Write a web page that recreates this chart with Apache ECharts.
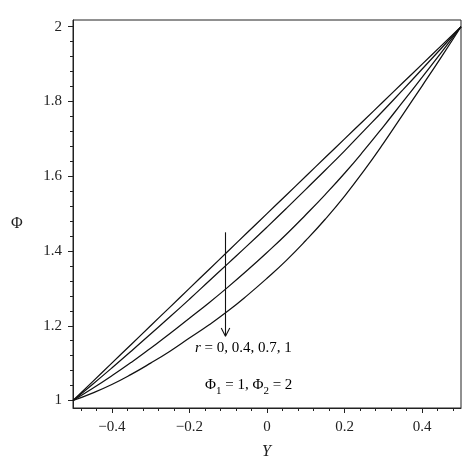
<!DOCTYPE html>
<html>
<head>
<meta charset="utf-8">
<script src="https://cdn.jsdelivr.net/npm/echarts@6/dist/echarts.min.js"></script>
<style>html,body{margin:0;padding:0;background:#fff;}#c{width:474px;height:474px;}</style>
</head>
<body>
<div id="c"></div>
<script>
// Y positions (abscissa)
const yPos = [-0.5,-0.45,-0.4,-0.35,-0.3,-0.25,-0.2,-0.15,-0.1,-0.05,0,0.05,0.1,0.15,0.2,0.25,0.3,0.35,0.4,0.45,0.5];
// Phi for r = 0, 0.4, 0.7, 1
const phi_r0  = [1.000,1.050,1.100,1.150,1.200,1.250,1.300,1.350,1.400,1.450,1.500,1.550,1.600,1.650,1.700,1.750,1.800,1.850,1.900,1.950,2.000];
const phi_r04 = [1.000,1.043,1.087,1.132,1.178,1.224,1.271,1.319,1.367,1.415,1.464,1.514,1.565,1.616,1.668,1.722,1.776,1.831,1.887,1.943,2.000];
const phi_r07 = [1.000,1.032,1.066,1.102,1.140,1.179,1.220,1.261,1.304,1.349,1.396,1.445,1.497,1.551,1.608,1.669,1.733,1.799,1.865,1.932,2.000];
const phi_r1  = [1.000,1.020,1.043,1.070,1.100,1.132,1.167,1.202,1.240,1.282,1.327,1.375,1.428,1.485,1.547,1.615,1.688,1.765,1.842,1.920,2.000];
const rValues = ['0','0.4','0.7','1'];
const xTicks = [-0.4,-0.2,0,0.2,0.4];
const xMinorTicks = [-0.48,-0.44,-0.4,-0.36,-0.32,-0.28,-0.24,-0.2,-0.16,-0.12,-0.08,-0.04,0,0.04,0.08,0.12,0.16,0.2,0.24,0.28,0.32,0.36,0.4,0.44,0.48];
const yTicks = [1,1.2,1.4,1.6,1.8,2];
const yMinorTicks = [1,1.04,1.08,1.12,1.16,1.2,1.24,1.28,1.32,1.36,1.4,1.44,1.48,1.52,1.56,1.6,1.64,1.68,1.72,1.76,1.8,1.84,1.88,1.92,1.96,2];

const FONT = '"Liberation Serif", "DejaVu Serif", serif';
const pair = (xs, ys) => xs.map((x, i) => [x, ys[i]]);
const curves = [phi_r0, phi_r04, phi_r07, phi_r1];

const ax = -0.107, aTop = 1.45, aTip = 1.172, hw = 0.011, hh = 0.022;

const series = curves.map((c, i) => ({
  type: 'line',
  name: 'r = ' + rValues[i],
  data: pair(yPos, c),
  smooth: true,
  showSymbol: false,
  symbol: 'none',
  xAxisIndex: 0, yAxisIndex: 0,
  lineStyle: {color: '#111', width: 1.25},
  silent: true,
  z: 3
}));
series[0].markLine = {
  silent: true,
  symbol: ['none','none'],
  label: {show: false},
  lineStyle: {color: '#111', width: 1.1, type: 'solid'},
  animation: false,
  data: [
    [{coord: [ax, aTop]}, {coord: [ax, aTip]}],
    [{coord: [ax - hw, aTip + hh]}, {coord: [ax, aTip]}],
    [{coord: [ax + hw, aTip + hh]}, {coord: [ax, aTip]}]
  ]
};

const fmtX = v => {
  const r = Math.round(v * 10) / 10;
  return r < 0 ? '\u2212' + String(-r) : String(r);
};

const option = {
  animation: false,
  backgroundColor: '#fff',
  grid: {left: 73, right: 13, top: 20, bottom: 66, show: true, borderColor: '#222', borderWidth: 1, backgroundColor: 'transparent'},
  xAxis: [{
    type: 'value', min: -0.5, max: 0.5, position: 'bottom',
    axisLine: {show: true, onZero: false, lineStyle: {color: '#222', width: 1}},
    axisTick: {show: true, length: 5, customValues: xTicks, lineStyle: {color: '#222'}},
    axisLabel: {show: true, customValues: xTicks, formatter: fmtX, margin: 12, color: '#222', fontFamily: FONT, fontSize: 15},
    splitLine: {show: false}
  }, {
    type: 'value', min: -0.5, max: 0.5, position: 'bottom',
    axisLine: {show: false, onZero: false},
    axisTick: {show: true, length: 3, customValues: xMinorTicks, lineStyle: {color: '#222'}},
    axisLabel: {show: false},
    splitLine: {show: false}
  }],
  yAxis: [{
    type: 'value', min: 0.98, max: 2.018, position: 'left',
    axisLine: {show: true, onZero: false, lineStyle: {color: '#222', width: 1}},
    axisTick: {show: true, length: 5, customValues: yTicks, lineStyle: {color: '#222'}},
    axisLabel: {show: true, customValues: yTicks, formatter: v => String(Math.round(v * 10) / 10), margin: 11, color: '#222', fontFamily: FONT, fontSize: 15},
    splitLine: {show: false}
  }, {
    type: 'value', min: 0.98, max: 2.018, position: 'left',
    axisLine: {show: false, onZero: false},
    axisTick: {show: true, length: 3, customValues: yMinorTicks, lineStyle: {color: '#222'}},
    axisLabel: {show: false},
    splitLine: {show: false}
  }],
  graphic: [
    {type: 'text', left: 11, top: 216, style: {text: '\u03A6', font: '16px ' + FONT, fill: '#222'}},
    {type: 'text', left: 262, top: 444, style: {text: 'Y', font: 'italic 16px ' + FONT, fill: '#222'}},
    {type: 'text', left: 195, top: 341, style: {
      text: '{i|r}{a| = ' + rValues.join(', ') + '}',
      rich: {
        i: {fontFamily: FONT, fontSize: 15, fontStyle: 'italic', color: '#222'},
        a: {fontFamily: FONT, fontSize: 15, color: '#222'}
      }
    }},
    {type: 'text', left: 205, top: 378, style: {
      text: '{a|\u03A6}{s|1}{a| = 1, \u03A6}{s|2}{a| = 2}',
      rich: {
        a: {fontFamily: FONT, fontSize: 15, lineHeight: 19, verticalAlign: 'top', color: '#222'},
        s: {fontFamily: FONT, fontSize: 11, lineHeight: 9, verticalAlign: 'bottom', color: '#222'}
      }
    }}
  ],
  series: series
};

const chart = echarts.init(document.getElementById('c'), null, {renderer: 'canvas'});
chart.setOption(option);
</script>
</body>
</html>
